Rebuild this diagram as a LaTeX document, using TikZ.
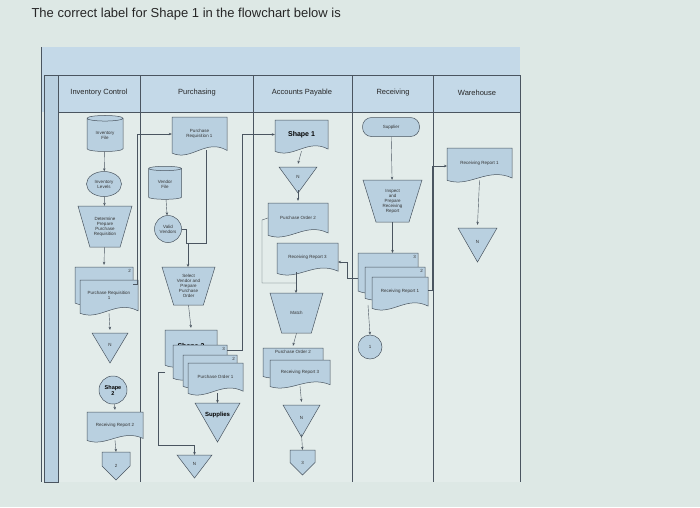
\documentclass[tikz,border=0pt]{standalone}
\usepackage{fontspec}
\setmainfont{Liberation Sans}
\usetikzlibrary{shapes.geometric,arrows.meta}
\definecolor{bgc}{HTML}{DDE8E5}
\definecolor{bandc}{HTML}{C4D9E8}
\definecolor{lanec}{HTML}{E3ECEA}
\definecolor{shpc}{HTML}{B9D0E0}
\definecolor{linec}{HTML}{4A5560}
\tikzset{
 shp/.style={draw=linec,fill=shpc,line width=0.5pt},
 txt/.style={inner sep=0pt,font=\fontsize{4.5}{5}\selectfont,align=center,text=black!80},
 big/.style={inner sep=0pt,font=\bfseries\fontsize{7}{8}\selectfont,align=center},
 hdr/.style={font=\fontsize{7.5}{9}\selectfont,text=black!85},
 con/.style={draw=linec,line width=0.4pt,-{Stealth[length=3pt,width=2.5pt]}},
 ln/.style={draw=linec,line width=0.4pt},
}
% document: [style] name x1 y1 x2 y2 text
\newcommand\docu[7][txt]{%
 \pgfmathsetmacro\dw{#5-#3}\pgfmathsetmacro\dh{#6-#4}%
 \draw[shp] (#3,#4) -- (#5,#4) -- (#5,{#6-0.12*\dh}) .. controls ({#3+0.62*\dw},{#6-0.45*\dh}) and ({#3+0.35*\dw},{#6+0.18*\dh}) .. (#3,{#6-0.05*\dh}) -- cycle;
 \node[#1,minimum width=\dw pt,minimum height=\dh pt,yshift=2pt] (#2) at ({(#3+#5)/2},{(#4+#6)/2}) {#7};}
% trapezoid
\newcommand\trap[6]{%
 \pgfmathsetmacro\dw{#4-#2}\pgfmathsetmacro\dh{#5-#3}%
 \draw[shp] (#2,#3) -- (#4,#3) -- ({#4-0.22*\dw},#5) -- ({#2+0.22*\dw},#5) -- cycle;
 \node[txt,minimum width=\dw pt,minimum height=\dh pt] (#1) at ({(#2+#4)/2},{(#3+#5)/2}) {#6};}
\newcommand\ntri[6]{%
 \pgfmathsetmacro\dw{#4-#2}\pgfmathsetmacro\dh{#5-#3}%
 \draw[shp] (#2,#3) -- (#4,#3) -- ({(#2+#4)/2},#5) -- cycle;
 \node[txt,minimum width=\dw pt,minimum height=\dh pt,yshift=3pt] (#1) at ({(#2+#4)/2},{(#3+#5)/2}) {#6};}
% off-page connector
\newcommand\offp[6]{%
 \pgfmathsetmacro\dw{#4-#2}\pgfmathsetmacro\dh{#5-#3}%
 \draw[shp] (#2,#3) -- (#4,#3) -- (#4,{#3+0.5*\dh}) -- ({(#2+#4)/2},#5) -- (#2,{#3+0.5*\dh}) -- cycle;
 \node[txt,minimum width=\dw pt,minimum height=\dh pt] (#1) at ({(#2+#4)/2},{(#3+#5)/2}) {#6};}
\begin{document}
\begin{tikzpicture}[x=1pt,y=-1pt]
\fill[bgc] (0,0) rectangle (700,507);
\useasboundingbox (0,0) rectangle (700,507);
\node[anchor=west,font=\fontsize{13}{15}\selectfont,text=black!85] (title) at (28,14) {The correct label for Shape 1 in the flowchart below is};
% frame
\fill[lanec] (41,47) rectangle (520,482);
\fill[bandc] (41,47) rectangle (520,112);
\draw[linec,line width=0.5pt] (41,47) -- (41,482);
\draw[linec,line width=0.4pt] (58,75) -- (520,75) (58,112) -- (520,112);
\draw[linec,line width=0.7pt,fill=shpc] (44,75) rectangle (58,482);
\foreach \x in {140,253,352,433,520} \draw[linec,line width=0.4pt] (\x,75) -- (\x,482);
\node[hdr] (h1) at (99,93) {Inventory Control};
\node[hdr] (h2) at (197,93) {Purchasing};
\node[hdr] (h3) at (302,93) {Accounts Payable};
\node[hdr] (h4) at (393,93) {Receiving};
\node[hdr] (h5) at (477,93) {Warehouse};
% ---- Inventory control
\node[shp,cylinder,shape border rotate=90,aspect=0.3,minimum width=36pt,minimum height=36pt,txt] (invfile) at (105,135) {Inventory\\File};
\node[shp,ellipse,minimum width=35pt,minimum height=25pt,txt] (invlev) at (104,184) {Inventory\\Levels};
\trap{detprep}{78}{206}{132}{247}{Determine\\Prepare\\Purchase\\Requisition}
\docu{prq2}{75}{267}{133}{305}{}
\node[txt,anchor=north east] (prq2n) at (131,269) {2};
\docu{prq1}{80}{280}{138}{315}{Purchase Requisition\\1}
\ntri{n1}{92}{333}{128}{363}{N}
\node[shp,circle,minimum size=28pt,inner sep=0pt,align=center,font=\bfseries\fontsize{5.5}{6}\selectfont] (sh2) at (113,390) {Shape\\2};
\docu{rr2}{87}{412}{143}{442}{Receiving Report 2}
\offp{op2}{102}{452}{130}{480}{2}
\draw[con] (invfile) -- (invlev);
\draw[con] (invlev) -- (detprep);
\draw[con] (detprep) -- (prq2.north);
\draw[con] (prq1.south) -- (n1.north);
\draw[con] (sh2) -- (rr2.north);
\draw[con] (rr2.south) -- (op2.north);
% ---- Purchasing
\docu{pr1}{172}{117}{227}{155}{Purchase\\Requisition 1}
\node[shp,cylinder,shape border rotate=90,aspect=0.3,minimum width=33pt,minimum height=33pt,txt] (vfile) at (165,184) {Vendor\\File};
\node[shp,ellipse,minimum width=27pt,minimum height=27pt,txt] (vv) at (168,229) {Valid\\Vendors};
\trap{selv}{162}{267}{215}{305}{Select\\Vendor and\\Prepare\\Purchase\\Order}
\docu[big]{sh3}{165}{330}{217}{367}{Shape 3}
\docu{po3}{173}{345}{227}{380}{}
\node[txt,anchor=north east] (po3n) at (225,347) {3};
\docu{po2}{183}{355}{237}{388}{}
\node[txt,anchor=north east] (po2n) at (235,357) {2};
\docu{po1}{188}{363}{243}{395}{Purchase Order 1}
\draw[shp] (195,403) -- (240,403) -- (217.5,442) -- cycle;
\node[big,font=\bfseries\fontsize{6}{7}\selectfont] (supp1) at (217.5,415) {Supplies};
\ntri{n2}{177}{455}{212}{478}{N}
\draw[con] (prq2.east) -- ++(4,0) |- (pr1.west);
\draw[con] (vfile) -- (vv);
\draw[ln] (206,150) -- (206,243) -- (188,243);
\draw[ln] (vv.east) -- ++(4,0) |- (188,243);
\draw[con] (188,243) -- (188,267);
\draw[con] (selv.south) -- (sh3.north);
\draw[con] (217.5,393) -- (supp1.north |- 0,403);
\draw[ln] (165,372) -- (158,372);
\draw[con] (158,372) -- (158,445) -- (194.5,445) -- (194.5,455);
% ---- Accounts payable
\docu[big]{sh1}{275}{120}{328}{153}{Shape 1}
\ntri{n3}{279}{167}{317}{193}{N}
\docu{pap2}{268}{203}{328}{237}{Purchase Order 2}
\docu{rr3}{277}{243}{338}{275}{Receiving Report 3}
\trap{match}{270}{293}{323}{333}{Match}
\docu{mpo2}{263}{348}{323}{378}{}
\node[txt,anchor=north] (mpo2t) at (293,350) {Purchase Order 2};
\docu{mrr3}{270}{360}{330}{388}{Receiving Report 3}
\ntri{n4}{283}{405}{320}{437}{N}
\offp{op3}{290}{450}{315}{475}{3}
\draw[con] (227,350) -- (242,350) |- (sh1.west);
\draw[con] (sh1.south) -- (n3.north);
\draw[con] (n3.south) -- (pap2.north);
\draw[ln] (pap2.west) -- (262,220) -- (262,283) -- (296,283);
\draw[con] (296,272) -- (296,293);
\draw[con] (match.south) -- (mpo2.north);
\draw[con] (mrr3.south) -- (n4.north);
\draw[con] (n4.south) -- (op3.north);
% ---- Warehouse
\docu{wrr1}{447}{148}{512}{182}{Receiving Report 1}
\coordinate (wrr1w) at (447,166);
\ntri{n5}{458}{228}{497}{262}{N}
\draw[con] (wrr1.south) -- (n5.north);
% ---- Receiving
\node[shp,rounded corners=9pt,minimum width=57pt,minimum height=19pt,txt] (supp2) at (391,127) {Supplier};
\trap{insp}{363}{180}{422}{222}{Inspect\\and\\Prepare\\Receiving\\Report}
\docu{rrr3}{358}{253}{418}{293}{}
\node[txt,anchor=north east] (rrr3n) at (416,255) {3};
\docu{rrr2}{365}{267}{425}{300}{}
\node[txt,anchor=north east] (rrr2n) at (423,269) {2};
\docu{rrr1}{372}{277}{428}{310}{Receiving Report 1}
\node[shp,circle,minimum size=24pt,txt] (c1n) at (370,347) {1};
\draw[con] (supp2) -- (insp);
\draw[con] (insp.south) -- (392.5,253);
\draw[con] (368,305) -- (c1n.north);
\draw[con] (358,278) -- (347,278) -- (347,262) -- (338,262);
\draw[con] (428,290) -- (432,290) |- (wrr1w);
\end{tikzpicture}
\end{document}
